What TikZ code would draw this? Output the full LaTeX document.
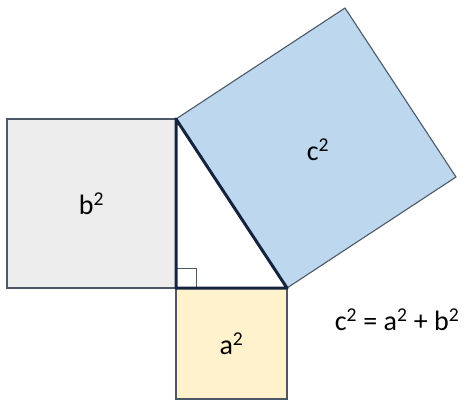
\documentclass[tikz,border=0pt]{standalone}
\usepackage{fontspec}
\setmainfont{Carlito}
\usetikzlibrary{calc}
\definecolor{sqline}{HTML}{4D5866}
\definecolor{legline}{HTML}{14233F}
\definecolor{bfill}{HTML}{EDEDED}
\definecolor{afill}{HTML}{FFF2CC}
\definecolor{cfill}{HTML}{BDD7EE}

\begin{document}
\begin{tikzpicture}[x=1pt,y=-1pt]
\useasboundingbox (0,0) rectangle (474,407);
\newcommand\pw[1]{#1\textsuperscript{2}}
\tikzset{sq/.style={draw=sqline,line width=1.1pt},
  leg/.style={draw=legline,line width=3pt,line join=round},
  lbl/.style={font=\fontsize{28}{32}\selectfont}}
% triangle corners
\coordinate (A) at (176,119);
\coordinate (C) at (176,288);
\coordinate (B) at (287,288);
% outer corners of the squares
\coordinate (D) at ($(A)!1!90:(B)$);
\coordinate (E) at ($(B)!1!-90:(A)$);
\coordinate (F) at (7,119);
\coordinate (H) at (287,399);

\filldraw[sq,fill=bfill] (F) rectangle (C);
\filldraw[sq,fill=afill] (C) rectangle (H);
\filldraw[sq,fill=cfill] (A) -- (D) -- (E) -- (B) -- cycle;

\draw[sqline,line width=.9pt] ($(C)+(0,-20)$) -| ($(C)+(20,0)$);
\draw[leg] (A) -- (C) -- (B) -- cycle;

\node[lbl] (b2) at ($(F)!.5!(C)$) {\pw{b}};
\node[lbl] (a2) at ($(C)!.5!(H)$) {\pw{a}};
\node[lbl] (c2) at ($(A)!.5!(E)+(2,2)$) {\pw{c}};
\node[lbl] (eq) at (397,320) {\pw{c} = \pw{a} + \pw{b}};
\end{tikzpicture}
\end{document}
